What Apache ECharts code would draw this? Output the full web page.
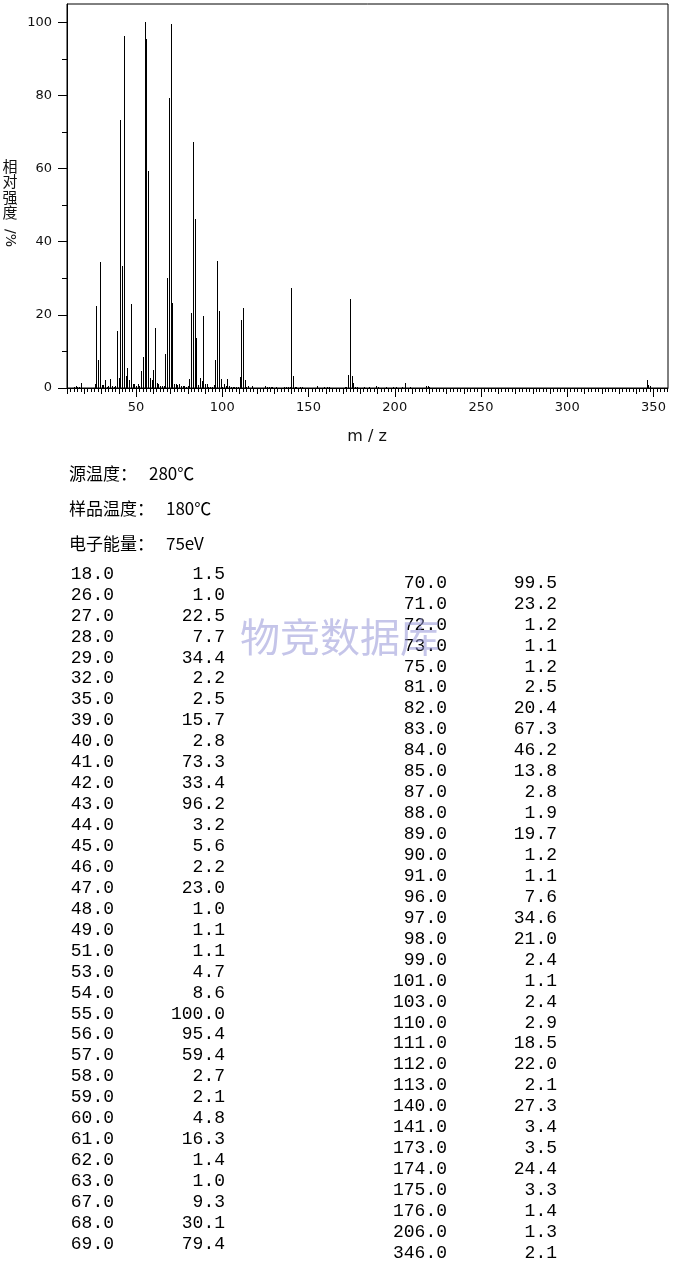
<!DOCTYPE html>
<html>
<head>
<meta charset="utf-8">
<script src="https://cdn.jsdelivr.net/npm/echarts@6/dist/echarts.min.js"></script>
<style>
html,body{margin:0;padding:0;background:#fff;}
#main{width:680px;height:1276px;}
</style>
</head>
<body>
<div id="main"></div>
<script>
// ---- Data ----
// Peaks listed in the table (m/z, relative intensity %)
const tableMz = [18,26,27,28,29,32,35,39,40,41,42,43,44,45,46,47,48,49,51,53,54,55,56,57,58,59,60,61,62,63,67,68,69,
                 70,71,72,73,75,81,82,83,84,85,87,88,89,90,91,96,97,98,99,101,103,110,111,112,113,140,141,173,174,175,176,206,346];
const tableIntensity = [1.5,1.0,22.5,7.7,34.4,2.2,2.5,15.7,2.8,73.3,33.4,96.2,3.2,5.6,2.2,23.0,1.0,1.1,1.1,4.7,8.6,100.0,95.4,59.4,2.7,2.1,4.8,16.3,1.4,1.0,9.3,30.1,79.4,
                 99.5,23.2,1.2,1.1,1.2,2.5,20.4,67.3,46.2,13.8,2.8,1.9,19.7,1.2,1.1,7.6,34.6,21.0,2.4,1.1,2.4,2.9,18.5,22.0,2.1,27.3,3.4,3.5,24.4,3.3,1.4,1.3,2.1];
// Small (<1 %) peaks visible in the plot only (estimated)
const minorMz = [14,15,16,17,30,31,33,34,36,37,38,50,52,64,65,66,74,76,77,78,79,80,86,92,93,94,95,100,102,104,105,106,107,108,109,
                 114,115,117,125,126,127,128,129,131,136,137,138,139,142,143,145,146,155,159,161,162,171,172,177,178,182,185,189,190,195,199,201,204,209,218,219,220,347,348];
const minorIntensity = [0.3,0.5,0.3,0.4,0.9,0.7,0.4,0.5,0.5,0.4,0.5,0.5,0.6,0.6,0.6,0.5,0.9,0.5,0.6,0.5,0.4,0.5,0.9,0.4,0.4,0.3,0.8,0.4,0.5,0.6,0.4,0.3,0.4,0.3,0.4,
                 0.4,0.6,0.6,0.6,0.4,0.3,0.3,0.3,0.3,0.3,0.3,0.4,0.4,0.4,0.3,0.4,0.3,0.5,0.3,0.4,0.3,0.3,0.3,0.4,0.3,0.3,0.4,0.5,0.3,0.3,0.3,0.3,0.3,0.3,0.6,0.5,0.4,0.7,0.5];
// Axis tick labels
const xTickLabels = [50,100,150,200,250,300,350];
const yTickLabels = [0,20,40,60,80,100];
const yMinorTicks = [10,30,50,70,90];
// Header texts (label, value)
const headerLabels = ['源温度：','样品温度：','电子能量：'];
const headerValues = ['280℃','180℃','75eV'];
const xAxisName = 'm / z';
const yAxisNameChars = ['相','对','强','度'];
const yAxisNameTail = '/%';
const watermark = '物竞数据库';

// ---- Build ----
const peaks = [];
tableMz.forEach((m,i)=>peaks.push([m, tableIntensity[i]]));
minorMz.forEach((m,i)=>peaks.push([m, minorIntensity[i]]));

const xMin = 10, xMax = 358.4;
const tens = []; for (let v = 10; v <= 350; v += 10) tens.push(v);
const twos = []; for (let v = 10; v <= 358; v += 2) twos.push(v);

const chart = echarts.init(document.getElementById('main'), null, {renderer:'canvas'});

const axisFont = {fontFamily:'DejaVu Sans', fontSize:13, color:'#111'};
const mono = 'Liberation Mono';

const graphics = [];
// header lines
headerLabels.forEach((t,i)=>{
  const y = 474 + i*35;
  graphics.push({type:'text', x:69, y:y,
    style:{text:t, font:'17px "Noto Sans CJK SC"', fill:'#000', textVerticalAlign:'middle', textAlign:'left'}});
  graphics.push({type:'text', x:69 + t.length*17 + 12, y:y,
    style:{text:headerValues[i], font:'17px "Noto Sans CJK SC"', fill:'#000', textVerticalAlign:'middle', textAlign:'left'}});
});
// table
const half = 33, rowH = 20.94;
tableMz.forEach((m,i)=>{
  const col = i < half ? 0 : 1;
  const r = col === 0 ? i : i - half;
  const y = (col === 0 ? 574 : 583) + r*rowH;
  const mzX = col === 0 ? 114 : 447;
  const valX = col === 0 ? 225 : 557;
  graphics.push({type:'text', x:mzX, y:y, style:{text:m.toFixed(1), font:'18px "'+mono+'"', fill:'#000', textAlign:'right', textVerticalAlign:'middle'}});
  graphics.push({type:'text', x:valX, y:y, style:{text:tableIntensity[i].toFixed(1), font:'18px "'+mono+'"', fill:'#000', textAlign:'right', textVerticalAlign:'middle'}});
});
// watermark
graphics.push({type:'text', x:340, y:637, z:100, style:{text:watermark, font:'40px "Noto Sans CJK SC"', fill:'rgba(150,150,215,0.55)', textAlign:'center', textVerticalAlign:'middle'}});
// x axis name
graphics.push({type:'text', x:367, y:437, style:{text:xAxisName, font:'16px "DejaVu Sans"', fill:'#111', textAlign:'center', textVerticalAlign:'middle'}});
// y axis name (vertical)
yAxisNameChars.forEach((c,i)=>{
  graphics.push({type:'text', x:10, y:166 + i*15.5, style:{text:c, font:'15px "Noto Sans CJK SC"', fill:'#111', textAlign:'center', textVerticalAlign:'middle'}});
});
graphics.push({type:'text', x:10, y:238, rotation:-Math.PI/2, style:{text:yAxisNameTail, font:'14px "DejaVu Sans"', fill:'#111', textAlign:'center', textVerticalAlign:'middle'}});

const baseX = {type:'value', min:xMin, max:xMax, position:'bottom', splitLine:{show:false}};
const baseY = {type:'value', min:0, max:105, position:'left', splitLine:{show:false}};

chart.setOption({
  animation:false,
  backgroundColor:'#fff',
  grid:{left:67, top:4, right:12, bottom:888, show:true, borderColor:'#000', borderWidth:1, backgroundColor:'transparent'},
  xAxis:[
    Object.assign({}, baseX, {axisLine:{show:true, lineStyle:{color:'#000'}},
      axisTick:{show:true, length:9, customValues:xTickLabels, lineStyle:{color:'#000'}},
      axisLabel:Object.assign({show:true, margin:13, customValues:xTickLabels}, axisFont)}),
    Object.assign({}, baseX, {axisLine:{show:false}, axisLabel:{show:false},
      axisTick:{show:true, length:6, customValues:tens, lineStyle:{color:'#000'}}}),
    Object.assign({}, baseX, {axisLine:{show:false}, axisLabel:{show:false},
      axisTick:{show:true, length:4, customValues:twos, lineStyle:{color:'#000'}}})
  ],
  yAxis:[
    Object.assign({}, baseY, {axisLine:{show:true, lineStyle:{color:'#000'}},
      axisTick:{show:true, length:9, customValues:yTickLabels, lineStyle:{color:'#000'}},
      axisLabel:Object.assign({show:true, margin:15, customValues:yTickLabels}, axisFont)}),
    Object.assign({}, baseY, {axisLine:{show:false}, axisLabel:{show:false},
      axisTick:{show:true, length:5, customValues:yMinorTicks, lineStyle:{color:'#000'}}})
  ],
  series:[{
    type:'custom',
    xAxisIndex:0, yAxisIndex:0,
    data:peaks,
    renderItem:function(params, api){
      const x = api.value(0), y = api.value(1);
      const p0 = api.coord([x,0]);
      const p1 = api.coord([x,y]);
      const px = Math.round(p0[0]) + 0.5;
      return {type:'line', shape:{x1:px, y1:Math.round(p0[1])+0.5, x2:px, y2:Math.round(p1[1])}, style:{stroke:'#000', lineWidth:1}};
    }
  }],
  graphic:graphics
});
</script>
</body>
</html>
